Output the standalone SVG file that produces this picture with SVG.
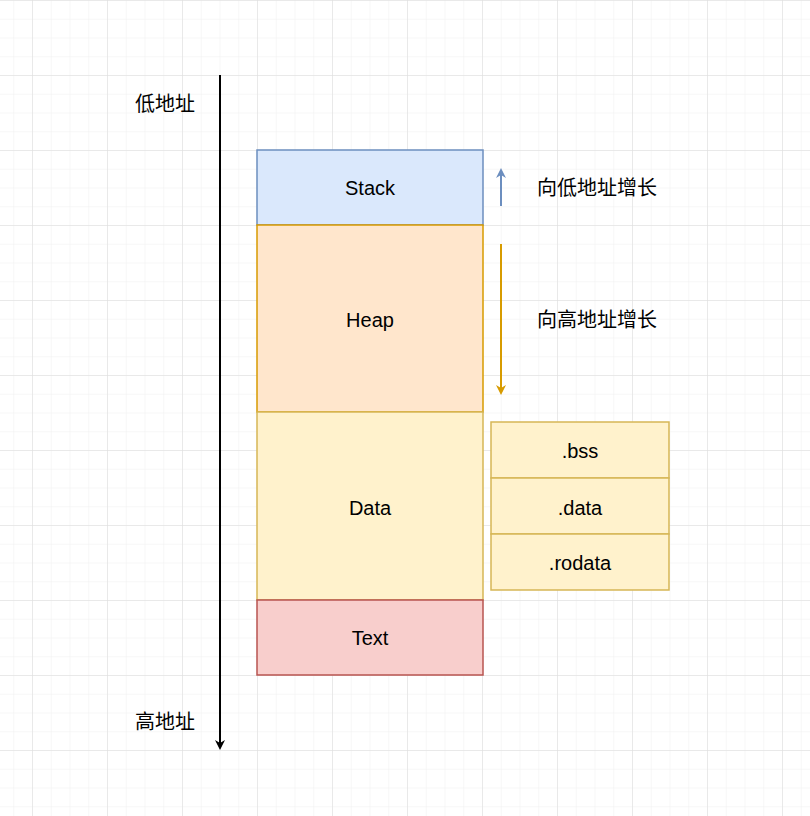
<svg xmlns="http://www.w3.org/2000/svg" width="810" height="816" viewBox="0 0 810 816">
<defs>
<pattern id="minor" x="32" y="0" width="18.75" height="18.75" patternUnits="userSpaceOnUse"><path d="M0 0H18.75M0 0V18.75" fill="none" stroke="#f0f0f0" stroke-width="1"/></pattern>
<pattern id="major" x="32" y="0" width="75" height="75" patternUnits="userSpaceOnUse"><path d="M0 0H75M0 0V75" fill="none" stroke="#dcdcdc" stroke-width="1"/></pattern>
<marker id="ak" markerWidth="10" markerHeight="10" refX="8" refY="5" orient="auto" markerUnits="userSpaceOnUse"><path d="M0 0L10 5L0 10L3 5Z" fill="#000"/></marker>
<marker id="ab" markerWidth="10" markerHeight="10" refX="8" refY="5" orient="auto" markerUnits="userSpaceOnUse"><path d="M0 0L10 5L0 10L3 5Z" fill="#6c8ebf"/></marker>
<marker id="ao" markerWidth="10" markerHeight="10" refX="8" refY="5" orient="auto" markerUnits="userSpaceOnUse"><path d="M0 0L10 5L0 10L3 5Z" fill="#d79b00"/></marker>
</defs>
<style>
text{font-family:"Liberation Sans","Noto Sans CJK SC",sans-serif;font-size:20px;fill:#000;text-anchor:middle;dominant-baseline:central}
.l{text-anchor:start}
</style>
<rect width="810" height="816" fill="#fff"/>
<rect width="810" height="816" fill="url(#minor)"/>
<rect width="810" height="816" fill="url(#major)"/>
<g id="connectors">
<line x1="220" y1="75" x2="220" y2="748" stroke="#000" stroke-width="2" marker-end="url(#ak)"/>
<line x1="501" y1="206" x2="501" y2="170" stroke="#6c8ebf" stroke-width="2" marker-end="url(#ab)"/>
<line x1="501" y1="244" x2="501" y2="393" stroke="#d79b00" stroke-width="2" marker-end="url(#ao)"/>
</g>
<g id="stack"><rect x="257" y="150" width="226" height="75" fill="#dae8fc" stroke="#6c8ebf" stroke-width="1.5"/><text x="370" y="188">Stack</text></g>
<g id="heap"><rect x="257" y="225" width="226" height="187" fill="#ffe6cc" stroke="#d79b00" stroke-width="1.5"/><text x="370" y="320">Heap</text></g>
<g id="data"><rect x="257" y="412" width="226" height="188" fill="#fff2cc" stroke="#d6b656" stroke-width="1.5"/><text x="370" y="508">Data</text></g>
<g id="text"><rect x="257" y="600" width="226" height="75" fill="#f8cecc" stroke="#b85450" stroke-width="1.5"/><text x="370" y="638">Text</text></g>
<g id="bss"><rect x="491" y="422" width="178" height="56" fill="#fff2cc" stroke="#d6b656" stroke-width="1.5"/><text x="580" y="451">.bss</text></g>
<g id="dotdata"><rect x="491" y="478" width="178" height="56" fill="#fff2cc" stroke="#d6b656" stroke-width="1.5"/><text x="580" y="508">.data</text></g>
<g id="rodata"><rect x="491" y="534" width="178" height="56" fill="#fff2cc" stroke="#d6b656" stroke-width="1.5"/><text x="580" y="563">.rodata</text></g>
<g id="lowaddr"><text x="165" y="104">低地址</text></g>
<g id="highaddr"><text x="165" y="722">高地址</text></g>
<g id="growlow"><text class="l" x="537" y="188">向低地址增长</text></g>
<g id="growhigh"><text class="l" x="537" y="320">向高地址增长</text></g>
</svg>
